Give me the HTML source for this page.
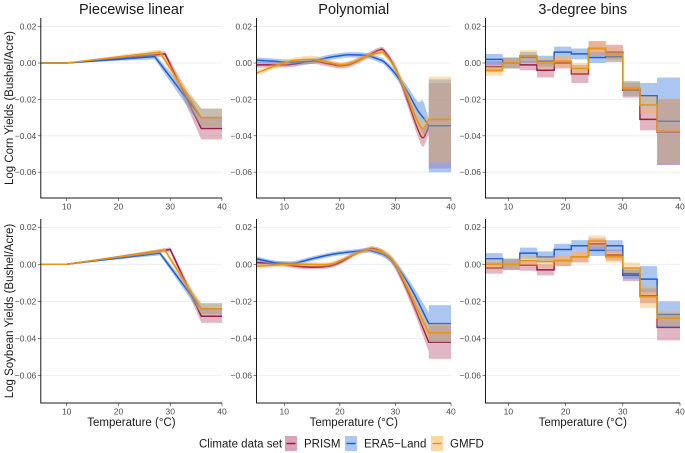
<!DOCTYPE html>
<html><head><meta charset="utf-8"><style>
body{margin:0;background:#fff;}
svg{display:block;font-family:"Liberation Sans",Arial,sans-serif;}
</style></head><body>
<svg id="chart" width="685" height="453" viewBox="0 0 685 453">
<g id="titles"></g>
<g id="panels"></g>
<g id="legend"></g>
</svg>
<script>
// ---- data ----
const seriesNames = ["PRISM","ERA5\u2212Land","GMFD"];
const colTitles = ["Piecewise linear","Polynomial","3-degree bins"];
const rowTitles = ["Log Corn Yields (Bushel/Acre)","Log Soybean Yields (Bushel/Acre)"];
const xTicks = [10,20,30,40];
const yTicks = [0.02,0,-0.02,-0.04,-0.06];
const yTickLabels = ["0.02","0.00","\u22120.02","\u22120.04","\u22120.06"];

// piecewise linear: x knots and values per series [PRISM, ERA5, GMFD]
const cornPwX = [[5,10,29,36,40],[5,10,27,36,40],[5,10,28,36,40]];
const cornPwY = [[0,0,0.005,-0.036,-0.036],[0,0,0.0035,-0.030,-0.030],[0,0,0.006,-0.030,-0.030]];
const cornPwHW = [[0,0,0.0015,0.006,0.006],[0,0,0.0015,0.005,0.005],[0,0,0.0015,0.005,0.005]];
const soyPwX = [[5,10,30,36,40],[5,10,28,36,40],[5,10,29,36,40]];
const soyPwY = [[0,0,0.008,-0.028,-0.028],[0,0,0.006,-0.024,-0.024],[0,0,0.0075,-0.024,-0.024]];
const soyPwHW = [[0,0,0.0012,0.0035,0.0035],[0,0,0.0012,0.003,0.003],[0,0,0.0012,0.003,0.003]];

// polynomial
const cornPolyX = [5,8,10,12,15,18,20,22,25,27,28,30,32,34,35,36];
const cornPolyY = [
 [-0.001,-0.001,-0.001,-0.0005,0.001,-0.0005,-0.0015,-0.0005,0.004,0.007,0.0065,-0.003,-0.019,-0.036,-0.041,-0.0345],
 [0.0015,0.001,0.0005,0.0005,0.001,0.003,0.004,0.0045,0.004,0.002,0.0005,-0.006,-0.015,-0.026,-0.030,-0.0345],
 [-0.0055,-0.002,0,0.0015,0.002,0.0005,-0.001,0,0.004,0.0055,0.005,-0.003,-0.017,-0.032,-0.036,-0.031]];
const cornPolyHW = [
 [0.0015,0.0015,0.0015,0.0015,0.0015,0.0015,0.0015,0.0015,0.0015,0.0015,0.0015,0.002,0.003,0.004,0.005,0.004],
 [0.0015,0.0015,0.0015,0.0015,0.0015,0.0015,0.0015,0.0015,0.0015,0.0015,0.0015,0.002,0.003,0.005,0.009,0.003],
 [0.0015,0.0015,0.0015,0.0015,0.002,0.0015,0.0015,0.0015,0.0015,0.0015,0.0015,0.002,0.003,0.004,0.005,0.004]];
const cornPolyEnd = [-0.0345,-0.0345,-0.031];
const cornPolyEndHW = [0.0235,0.0255,0.0235];
const soyPolyX = [5,8,10,12,15,18,20,23,25,26,28,30,33,36];
const soyPolyY = [
 [0.001,0.0003,0,-0.001,-0.0015,-0.001,0.001,0.006,0.008,0.0085,0.006,-0.001,-0.02,-0.042],
 [0.003,0.001,0.0005,0.0007,0.003,0.005,0.006,0.007,0.0075,0.007,0.005,0,-0.014,-0.032],
 [-0.001,-0.0005,0,0,0,0,0.002,0.006,0.0078,0.008,0.006,0,-0.018,-0.037]];
const soyPolyHW = [
 [0.0012,0.0012,0.0012,0.0012,0.0012,0.0012,0.0012,0.0012,0.0012,0.0012,0.0015,0.002,0.003,0.005],
 [0.0012,0.0012,0.0012,0.0012,0.0012,0.0012,0.0012,0.0012,0.0012,0.0012,0.0015,0.002,0.003,0.006],
 [0.0012,0.0012,0.0012,0.0012,0.0012,0.0012,0.0012,0.0012,0.0012,0.0012,0.0015,0.002,0.003,0.004]];
const soyPolyEnd = [-0.042,-0.032,-0.037];
const soyPolyEndHW = [0.009,0.010,0.005];

// 3-degree bins
const binEdges = [6,9,12,15,18,21,24,27,30,33,36,40];
const cornBinY = [
 [-0.002,0,-0.001,-0.004,0,-0.006,0.008,0.006,-0.015,-0.031,-0.038],
 [0.002,0,0.003,0.001,0.006,0.005,0.003,0.0035,-0.014,-0.018,-0.032],
 [-0.004,0,0.004,0,0.001,-0.003,0.008,0.005,-0.014,-0.023,-0.0375]];
const cornBinHW = [
 [0.003,0.003,0.003,0.004,0.003,0.005,0.004,0.004,0.004,0.006,0.018],
 [0.003,0.003,0.003,0.003,0.003,0.003,0.003,0.003,0.004,0.007,0.024],
 [0.003,0.003,0.003,0.003,0.003,0.003,0.004,0.004,0.004,0.005,0.018]];
const soyBinY = [
 [-0.002,0,-0.0005,-0.003,0.002,0.004,0.011,0.005,-0.006,-0.017,-0.034],
 [0.003,0,0.006,0.004,0.008,0.010,0.0075,0.010,-0.005,-0.008,-0.027],
 [0,0,0.002,0.0015,0.002,0.004,0.0125,0.004,-0.002,-0.0175,-0.029]];
const soyBinHW = [
 [0.003,0.003,0.003,0.003,0.003,0.003,0.003,0.003,0.003,0.004,0.007],
 [0.003,0.003,0.003,0.003,0.003,0.003,0.003,0.003,0.003,0.007,0.007],
 [0.003,0.003,0.003,0.003,0.003,0.003,0.003,0.003,0.003,0.006,0.004]];

// ---- styling / layout ----
const lineCols = ["#9b1c45","#1c5fd2","#e8950f"];
const fillCols = ["#b8486c","#5a8ee6","#f2b24c"];
const fillOp = [0.4,0.5,0.4];
const cols = [{x0:40.8,x1:222,xmin:5,xmax:40},{x0:256.5,x1:451,xmin:5,xmax:40},{x0:485.5,x1:680,xmin:6,xmax:40}];
const rows = [{y0:63,per:36.4,top:18,bot:198},{y0:264.3,per:37.1,top:219,bot:403}];
const NS="http://www.w3.org/2000/svg";
function mk(tag,attrs,parent){const e=document.createElementNS(NS,tag);for(const k in attrs)e.setAttribute(k,attrs[k]);parent.appendChild(e);return e;}

function crPath(pts){ // Catmull-Rom to bezier, continues current path
  let d="";
  for(let i=0;i<pts.length-1;i++){
    const p0=pts[Math.max(i-1,0)],p1=pts[i],p2=pts[i+1],p3=pts[Math.min(i+2,pts.length-1)];
    const c1=[p1[0]+(p2[0]-p0[0])/6,p1[1]+(p2[1]-p0[1])/6];
    const c2=[p2[0]-(p3[0]-p1[0])/6,p2[1]-(p3[1]-p1[1])/6];
    d+=` C${c1[0].toFixed(2)},${c1[1].toFixed(2)} ${c2[0].toFixed(2)},${c2[1].toFixed(2)} ${p2[0].toFixed(2)},${p2[1].toFixed(2)}`;
  }
  return d;
}

const titles=document.getElementById('titles');
colTitles.forEach((t,i)=>{
  const e=mk('text',{x:(cols[i].x0+cols[i].x1)/2,y:14,'text-anchor':'middle','font-size':'14.5',fill:'#1a1a1a'},titles);
  e.textContent=t;
  
  
});
rowTitles.forEach((t,i)=>{
  const cy=(rows[i].top+rows[i].bot)/2;
  const e=mk('text',{x:0,y:0,transform:`translate(13,${cy}) rotate(-90)`,'text-anchor':'middle','font-size':'11.5',fill:'#1a1a1a'},titles);
  e.textContent=t;
  
  
});

const panelsG=document.getElementById('panels');
function drawPanel(ri,ci,kind){
  const C=cols[ci],R=rows[ri];
  const sx=v=>C.x0+(v-C.xmin)/(C.xmax-C.xmin)*(C.x1-C.x0);
  const sy=v=>R.y0-v/0.02*R.per;
  const g=mk('g',{},panelsG);
  
  
  // grid + y ticks
  yTicks.forEach((v,k)=>{
    const gl=mk('line',{x1:C.x0,x2:C.x1,y1:sy(v),y2:sy(v),stroke:'#ebebeb','stroke-width':0.8},g);
    
    
    mk('line',{x1:C.x0-3,x2:C.x0,y1:sy(v),y2:sy(v),stroke:'#333','stroke-width':0.6},g);
    const t=mk('text',{x:C.x0-4.5,y:sy(v)+3,'text-anchor':'end','font-size':'8.5',fill:'#4d4d4d'},g);
    t.textContent=yTickLabels[k];
    
    
  });
  xTicks.forEach(v=>{
    mk('line',{x1:sx(v),x2:sx(v),y1:R.bot,y2:R.bot+3,stroke:'#333','stroke-width':0.6},g);
    const t=mk('text',{x:sx(v),y:R.bot+11.5,'text-anchor':'middle','font-size':'8.5',fill:'#4d4d4d'},g);
    t.textContent=v;
    
    
  });
  const isCorn=ri===0;
  for(let s=0;s<3;s++){
    let band="",line="";
    if(kind==='pw'){
      const X=(isCorn?cornPwX:soyPwX)[s],Y=(isCorn?cornPwY:soyPwY)[s],H=(isCorn?cornPwHW:soyPwHW)[s];
      const up=X.map((x,i)=>[sx(x),sy(Y[i]+H[i])]),lo=X.map((x,i)=>[sx(x),sy(Y[i]-H[i])]).reverse();
      band="M"+up.map(p=>p.join(',')).join(' L')+" L"+lo.map(p=>p.join(',')).join(' L')+"Z";
      line="M"+X.map((x,i)=>sx(x)+','+sy(Y[i])).join(' L');
    } else if(kind==='poly'){
      const X=isCorn?cornPolyX:soyPolyX,Y=(isCorn?cornPolyY:soyPolyY)[s],H=(isCorn?cornPolyHW:soyPolyHW)[s];
      const E=(isCorn?cornPolyEnd:soyPolyEnd)[s],EH=(isCorn?cornPolyEndHW:soyPolyEndHW)[s];
      const up=X.map((x,i)=>[sx(x),sy(Y[i]+H[i])]),lo=X.map((x,i)=>[sx(x),sy(Y[i]-H[i])]).reverse();
      const mid=X.map((x,i)=>[sx(x),sy(Y[i])]);
      band=`M${up[0].join(',')}`+crPath(up)+` L${lo[0].join(',')}`+crPath(lo)+"Z";
      const xe=sx(X[X.length-1]);
      band+=` M${xe},${sy(E+EH)} L${sx(40)},${sy(E+EH)} L${sx(40)},${sy(E-EH)} L${xe},${sy(E-EH)}Z`;
      line=`M${mid[0].join(',')}`+crPath(mid)+` L${xe},${sy(E)} L${sx(40)},${sy(E)}`;
    } else {
      const Y=(isCorn?cornBinY:soyBinY)[s],H=(isCorn?cornBinHW:soyBinHW)[s];
      for(let b=0;b<Y.length;b++){
        const xa=sx(binEdges[b]),xb=sx(binEdges[b+1]);
        band+=`M${xa},${sy(Y[b]+H[b])} L${xb},${sy(Y[b]+H[b])} L${xb},${sy(Y[b]-H[b])} L${xa},${sy(Y[b]-H[b])}Z `;
        line+=(b===0?`M${xa},${sy(Y[b])}`:` L${xa},${sy(Y[b])}`)+` L${xb},${sy(Y[b])}`;
      }
    }
    const bp=mk('path',{d:band,fill:fillCols[s],'fill-opacity':fillOp[s],stroke:'none'},g);
    
    
    const lp=mk('path',{d:line,fill:'none',stroke:lineCols[s],'stroke-width':1.5},g);
    
    
  }
  mk('path',{d:`M${C.x0},${R.top} L${C.x0},${R.bot} L${C.x1},${R.bot}`,fill:'none',stroke:'#1a1a1a','stroke-width':1},g);
  if(ri===1){
    const t=mk('text',{x:(C.x0+C.x1)/2,y:426,'text-anchor':'middle','font-size':'11.5',fill:'#1a1a1a'},g);
    t.textContent="Temperature (\u00B0C)";
    
    
  }
}
['pw','poly','bins'].forEach((k,ci)=>{drawPanel(0,ci,k);drawPanel(1,ci,k);});

// legend
const lg=document.getElementById('legend');
const lt=mk('text',{x:199,y:447.5,'font-size':'11.5',fill:'#1a1a1a'},lg);
lt.textContent="Climate data set";


const keyX=[285,345,431];
seriesNames.forEach((n,s)=>{
  const e=mk('g',{},lg);
  
  
  mk('rect',{x:keyX[s],y:436,width:12,height:15,fill:fillCols[s],'fill-opacity':0.5},e);
  mk('line',{x1:keyX[s]+1.5,x2:keyX[s]+10.5,y1:443.5,y2:443.5,stroke:lineCols[s],'stroke-width':1.5},e);
  const t=mk('text',{x:keyX[s]+19,y:447.5,'font-size':'11.5',fill:'#1a1a1a'},e);
  t.textContent=n;
});
</script>
</body></html>
